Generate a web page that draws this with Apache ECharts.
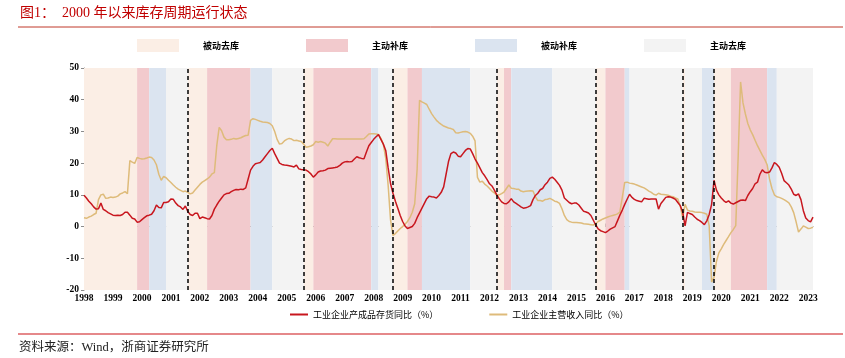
<!DOCTYPE html>
<html><head><meta charset="utf-8">
<script src="https://cdn.jsdelivr.net/npm/echarts@6/dist/echarts.min.js"></script>
<style>html,body{margin:0;padding:0;background:#fff}#c{width:845px;height:358px}</style>
</head><body><div id="c"></div>
<script>
// ---- data ----
const startYear = 1998;
const monthCount = 303; // 1998-01 .. 2023-03
const categories = [];
for (let i = 0; i < monthCount; i++) {
  const y = startYear + Math.floor(i / 12), m = i % 12 + 1;
  categories.push(y + '-' + (m < 10 ? '0' : '') + m);
}
const seriesNames = ['工业企业产成品存货同比（%）', '工业企业主营收入同比（%）'];
const inventoryYoY = [
  9.9, 9.0, 8.0, 7.2, 6.2, 5.5, 5.6, 7.4, 5.4, 5.0, 4.4, 4.0,
  3.6, 3.5, 3.6, 3.5, 3.8, 4.5, 4.5, 3.6, 2.6, 2.4, 1.4, 1.5,
  2.2, 2.8, 3.4, 3.6, 3.9, 5.0, 6.8, 6.0, 5.9, 7.6, 7.6, 7.8,
  8.7, 8.6, 7.4, 6.6, 6.2, 5.4, 6.5, 4.8, 3.8, 3.5, 4.2, 4.2,
  2.5, 3.0, 2.8, 2.5, 2.4, 3.5, 5.5, 6.8, 8.0, 9.0, 10.0, 10.4,
  10.5, 11.0, 11.4, 11.7, 11.6, 11.8, 11.7, 12.2, 15.0, 17.8, 19.0, 19.8,
  20.0, 20.2, 21.0, 22.0, 23.0, 24.0, 24.7, 23.0, 21.5, 20.0, 19.6, 19.4,
  19.3, 19.2, 19.0, 18.8, 19.4, 18.2, 18.0, 17.9, 17.8, 17.3, 16.6, 15.6,
  16.3, 17.2, 17.5, 17.6, 17.8, 18.3, 18.4, 18.5, 18.6, 18.8, 19.3, 20.0,
  20.4, 20.5, 20.4, 20.5, 21.3, 22.0, 21.7, 21.5, 21.4, 23.5, 25.5, 26.5,
  27.5, 28.3, 29.0, 27.5, 26.0, 24.0, 18.5, 13.5, 10.5, 8.0, 5.8, 3.5,
  1.6, 0.2, -0.6, -0.3, 0.0, 1.0, 2.8, 4.3, 5.8, 7.3, 8.8, 9.6,
  9.4, 9.3, 9.0, 9.8, 10.8, 12.5, 16.5, 20.5, 23.0, 23.5, 23.2, 22.2,
  22.0, 23.0, 24.0, 24.6, 24.5, 23.0, 21.3, 20.0, 18.5, 17.0, 16.0, 14.8,
  13.5, 12.8, 11.5, 10.0, 8.8, 7.8, 7.3, 7.2, 7.8, 8.8, 7.8, 7.3,
  6.8, 6.2, 5.8, 5.9, 6.2, 6.6, 8.5, 9.8, 10.5, 11.6, 12.0, 13.2,
  14.0, 15.2, 15.6, 14.9, 14.0, 13.0, 11.5, 9.0, 8.3, 7.6, 7.2, 7.4,
  7.4, 6.8, 5.8, 4.8, 4.6, 4.3, 3.5, 2.0, 0.5, -0.7, -1.3, -1.6,
  -1.9, -1.4, -0.8, -0.4, 0.0, 1.8, 3.6, 5.2, 7.0, 8.6, 10.2, 9.2,
  8.6, 8.2, 8.0, 7.8, 8.9, 8.8, 8.6, 8.7, 8.7, 8.7, 5.5, 7.3,
  8.2, 9.2, 9.4, 9.3, 9.0, 8.6, 7.6, 6.6, 4.6, 0.2, 4.5, 4.1,
  3.8, 3.0, 2.3, 1.9, 1.3, 0.6, 1.8, 3.8, 7.0, 14.6, 11.5, 10.0,
  9.0, 8.2, 7.6, 8.1, 7.4, 7.1, 7.5, 7.9, 8.3, 8.4, 8.2, 9.8,
  11.0, 12.0, 13.5, 14.0, 16.5, 17.9, 17.1, 17.0, 17.2, 18.5, 20.2, 19.6,
  18.7, 16.8, 14.5, 13.8, 13.1, 11.8, 10.2, 9.8, 10.3, 8.5, 5.0, 2.7,
  1.9, 1.5, 3.0
];
const revenueYoY = [
  2.8, 2.6, 3.0, 3.3, 3.8, 4.2, 8.5, 10.0, 10.2, 8.9, 9.0, 9.3,
  9.2, 9.3, 9.6, 10.3, 10.6, 11.0, 10.4, 20.8, 20.3, 19.9, 21.8, 21.5,
  21.3, 21.4, 21.6, 21.9, 21.8, 21.0, 19.5, 16.5, 14.6, 15.8, 15.4, 14.6,
  13.9, 13.1, 12.4, 11.8, 11.4, 11.0, 11.2, 10.8, 10.3, 10.6, 11.5, 12.4,
  13.3, 14.0, 14.5, 15.0, 15.6, 16.6, 17.0, 25.5, 31.3, 30.2, 28.2, 27.4,
  27.4, 27.5, 27.8, 27.6, 27.8, 28.0, 28.4, 28.7, 28.8, 33.5, 34.0, 33.8,
  33.5, 33.2, 33.0, 32.9, 32.8, 32.5, 31.8, 30.0, 27.5, 26.0, 26.2, 27.0,
  27.5, 27.8, 27.6, 27.1, 27.2, 27.0, 26.8, 26.0, 25.0, 25.2, 25.4, 25.8,
  26.8, 26.6, 26.8, 26.6, 26.3, 25.4, 26.6, 27.7, 27.7, 27.6, 27.6, 27.6,
  27.6, 27.6, 27.6, 27.6, 27.6, 27.6, 27.6, 27.6, 27.7, 28.4, 29.2, 29.3,
  29.3, 29.2, 29.0, 27.8, 26.0, 21.5, 13.0, 2.0, -2.8, -2.2, -1.4, -0.6,
  0.0, 0.7, 1.6, 2.8, 4.5, 7.2, 18.0, 39.8, 39.3, 38.9, 38.5, 37.0,
  35.6, 34.5, 33.5, 32.8, 32.2, 31.7, 31.4, 31.1, 30.9, 30.6, 29.6, 29.5,
  29.7, 29.9, 30.0, 29.8, 29.4, 28.5, 27.0, 15.5, 14.0, 14.3, 13.4, 12.8,
  12.0, 11.2, 10.6, 9.9, 10.0, 10.4, 10.9, 12.0, 13.1, 12.1, 12.0, 11.8,
  11.8, 11.2, 11.0, 11.1, 11.2, 11.3, 11.2, 9.4, 8.2, 8.2, 8.0, 8.5,
  8.6, 8.9, 8.5, 8.0, 7.8, 7.3, 5.6, 3.5, 2.2, 1.6, 1.4, 1.3,
  1.3, 1.2, 1.1, 0.9, 0.8, 0.7, 0.6, 0.5, 0.9, 1.6, 2.0, 2.4,
  2.7, 3.0, 3.3, 3.5, 3.7, 4.0, 4.6, 9.2, 13.9, 14.0, 13.7, 13.6,
  13.4, 13.1, 12.8, 12.5, 12.2, 11.7, 11.2, 10.8, 10.2, 9.9, 10.5, 10.2,
  10.1, 10.0, 9.9, 9.6, 9.4, 9.0, 8.7, 6.5, 2.8, 7.0, 5.2, 4.9,
  4.8, 4.6, 4.5, 4.5, 4.4, 4.2, 3.9, 0.2, -17.5, -16.0, -11.0, -8.3,
  -7.0, -5.6, -4.4, -3.2, -1.9, -0.9, 0.3, 22.0, 45.6, 39.0, 35.5, 32.5,
  30.5, 29.0, 27.2, 25.5, 24.0, 22.5, 21.2, 19.5, 15.0, 12.0, 10.0, 9.4,
  9.2, 8.9, 8.5, 8.0, 7.5, 6.2, 4.4, 1.5, -1.7, -0.8, 0.2, -0.2,
  -0.6, -0.5, -0.2
];
const bandNames = ['被动去库', '主动补库', '被动补库', '主动去库'];
const bandEdges = ['1998-01','1999-11','2000-04','2000-11','2001-08','2002-04','2003-10','2004-07',
  '2005-08','2005-12','2007-12','2008-03','2008-09','2009-03','2009-09','2011-05','2012-04',
  '2012-07','2012-10','2014-03','2015-09','2016-01','2016-09','2016-11','2018-09','2018-10',
  '2019-05','2019-10','2020-05','2021-08','2021-12','2023-03'];
const bandTypes = [0,1,2,3,0,1,2,3,0,1,2,3,0,1,2,3,0,1,2,3,0,1,2,3,0,3,2,0,1,2,3];
const cycleTurns = ['2001-08','2005-08','2008-09','2012-04','2015-09','2018-09','2019-10'];
const yMin = -20, yMax = 50, yStep = 10;

// ---- styles ----
const bandColors = ['#FBEEE5', '#F2CACD', '#DBE4F0', '#F3F3F3'];
const lineColors = ['#C8161E', '#DEBB7A'];
const serif = "'Liberation Serif','Times New Roman',serif";
const cjk = "'Noto Sans CJK SC',sans-serif";

const chart = echarts.init(document.getElementById('c'), null, {renderer: 'canvas'});

const bandSeries = bandNames.map((name, t) => {
  const areas = [];
  bandTypes.forEach((bt, i) => {
    if (bt === t) areas.push([{xAxis: bandEdges[i]}, {xAxis: bandEdges[i + 1]}]);
  });
  return {
    name, type: 'line', data: [], z: 1, silent: true,
    itemStyle: {color: bandColors[t]}, lineStyle: {color: bandColors[t]},
    markArea: {silent: true, itemStyle: {color: bandColors[t]}, data: areas}
  };
});

const yearTick = (idx) => idx % 12 === 0;

const option = {
  animation: false,
  backgroundColor: '#fff',
  grid: {left: 84, right: 32, top: 68, bottom: 68, containLabel: false},
  legend: [
    {
      data: bandNames, left: 137, top: 39, padding: 0, icon: 'rect', itemWidth: 42, itemHeight: 13, itemGap: 67,
      selectedMode: false,
      textStyle: {fontFamily: cjk, fontSize: 9, fontWeight: 'bold', color: '#000', padding: [0, 0, 0, 19]}
    },
    {
      data: seriesNames, left: 290, top: 310, padding: 0, icon: 'rect', itemWidth: 18, itemHeight: 2, itemGap: 51,
      selectedMode: false,
      textStyle: {fontFamily: cjk, fontSize: 9, color: '#000'}
    }
  ],
  xAxis: [
    {
      type: 'category', data: categories, boundaryGap: false, position: 'bottom',
      axisLine: {show: false, onZero: false}, axisTick: {show: false}, splitLine: {show: false},
      axisLabel: {interval: yearTick, formatter: v => v.slice(0, 4), fontFamily: serif, fontWeight: 'bold',
        fontSize: 9.5, color: '#000', margin: 4}
    },
    {
      type: 'category', data: categories, boundaryGap: false, position: 'top',
      axisLine: {show: true, onZero: true, lineStyle: {color: '#7f7f7f', width: 1}},
      axisTick: {show: true, interval: yearTick, length: 3, lineStyle: {color: '#7f7f7f'}},
      axisLabel: {show: false}, splitLine: {show: false}
    }
  ],
  yAxis: {
    type: 'value', min: yMin, max: yMax, interval: yStep,
    axisLine: {show: true, lineStyle: {color: '#8c8c8c'}},
    axisTick: {show: true, length: 3, lineStyle: {color: '#8c8c8c'}},
    splitLine: {show: false},
    axisLabel: {fontFamily: serif, fontWeight: 'bold', fontSize: 9.5, color: '#000', margin: 5}
  },
  series: [
    ...bandSeries,
    {
      name: 'turns', type: 'line', data: [], z: 2, silent: true,
      markLine: {
        silent: true, symbol: ['none', 'none'], label: {show: false},
        lineStyle: {color: '#000', type: [4, 3], width: 1.5},
        data: cycleTurns.map(c => ({xAxis: c}))
      }
    },
    {
      name: seriesNames[0], type: 'line', data: inventoryYoY, z: 4, showSymbol: false, symbol: 'none',
      itemStyle: {color: lineColors[0]}, lineStyle: {color: lineColors[0], width: 1.5}
    },
    {
      name: seriesNames[1], type: 'line', data: revenueYoY, z: 3, showSymbol: false, symbol: 'none',
      itemStyle: {color: lineColors[1]}, lineStyle: {color: lineColors[1], width: 1.5}
    }
  ],
  graphic: [
    {type: 'text', left: 20, top: 6, silent: true,
      style: {text: '图1：  2000 年以来库存周期运行状态', font: "14px 'Liberation Serif','Noto Sans CJK SC'", fill: '#C00000'}},
    {type: 'line', silent: true, shape: {x1: 18, y1: 27, x2: 843, y2: 27}, style: {stroke: '#C0392B', lineWidth: 1}},
    {type: 'line', silent: true, shape: {x1: 18, y1: 334, x2: 843, y2: 334}, style: {stroke: '#E5888A', lineWidth: 2}},
    {type: 'text', left: 19, top: 341, silent: true,
      style: {text: '资料来源：Wind，浙商证券研究所', font: "12.5px 'Liberation Serif','Noto Sans CJK SC'", fill: '#222'}}
  ]
};
chart.setOption(option);
</script>
</body></html>
